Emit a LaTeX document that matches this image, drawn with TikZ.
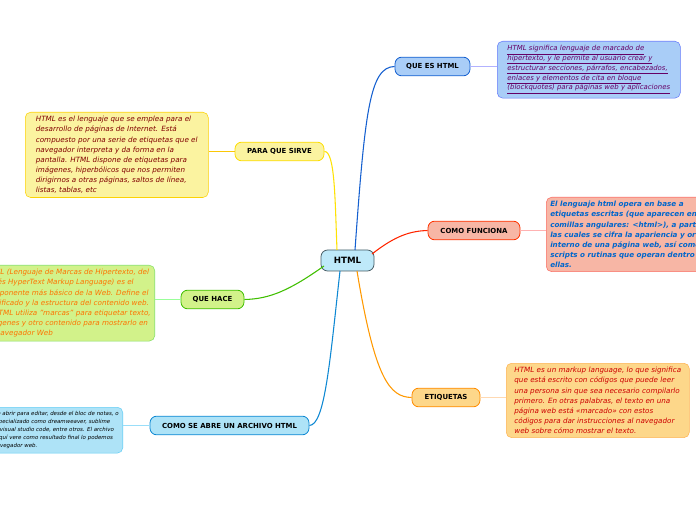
\documentclass[tikz,border=0pt]{standalone}
\usepackage{fontspec}
\setmainfont{DejaVu Sans}
\begin{document}
\begin{tikzpicture}[x=0.75pt,y=-0.75pt,
 topic/.style={draw,rounded corners=5pt,line width=0.6pt,minimum height=14pt,font=\fontsize{5.2}{6}\selectfont\bfseries,inner sep=1pt},
 note/.style={rounded corners=4pt,line width=0.4pt,anchor=north west,align=left,inner sep=3pt,font=\fontsize{5.4}{7.6}\selectfont\itshape},
 br/.style={line width=0.8pt},
 lk/.style={line width=0.5pt}]
\useasboundingbox[fill=white] (0,0) rectangle (696,520);
\definecolor{cb}{HTML}{A9CDF7}\definecolor{cr}{HTML}{F7B6A5}\definecolor{cy}{HTML}{FDD78A}
\definecolor{cc}{HTML}{AEE3F7}\definecolor{cg}{HTML}{D2F28A}\definecolor{cl}{HTML}{FBF3A0}
\definecolor{bl}{HTML}{1560D0}
\node[topic,fill=cc!80,draw=black!60!cc,minimum width=53*0.75pt,minimum height=21*0.75pt,font=\fontsize{6.5}{7}\selectfont\bfseries] (html) at (347.5,260.5) {HTML};
\node[topic,fill=cb,draw=bl,minimum width=75*0.75pt] (q) at (432.5,66.5) {QUE ES HTML};
\node[topic,fill=cr,draw=red!60!orange,minimum width=92*0.75pt] (cf) at (474,230.5) {COMO FUNCIONA};
\node[topic,fill=cy,draw=orange!90!yellow,minimum width=68*0.75pt] (et) at (446,397.5) {ETIQUETAS};
\node[topic,fill=cc,draw=cyan!70!blue,minimum width=159*0.75pt] (ab) at (229.5,425.5) {COMO SE ABRE UN ARCHIVO HTML};
\node[topic,fill=cg,draw=green!50!olive,minimum width=63*0.75pt] (qh) at (212.5,299.5) {QUE HACE};
\node[topic,fill=cl,draw=yellow!80!orange,minimum width=89*0.75pt] (ps) at (279.5,151.5) {PARA QUE SIRVE};

\draw[br,bl] (355,250) .. controls (365,110) and (370,67) .. (q.west);
\draw[br,red!70!orange] (372,254) .. controls (395,236) and (410,231) .. (cf.west);
\draw[br,orange!80!yellow] (357,271) .. controls (375,380) and (390,397) .. (et.west);
\draw[br,cyan!70!blue] (340,271) .. controls (330,360) and (325,425) .. (ab.east);
\draw[br,green!50!olive] (324,266) .. controls (290,290) and (270,299) .. (qh.east);
\draw[br,yellow!85!orange] (337,250) .. controls (335,200) and (335,151) .. (ps.east);

\node[note,fill=cb,draw=blue!40!cb,text=violet!80!black,minimum width=183*0.75pt,minimum height=51*0.75pt,font=\fontsize{5.2}{7.4}\selectfont\itshape] (t1) at (497,41) {\underline{HTML significa lenguaje de marcado de}\\\underline{hipertexto, y le permite al usuario crear y}\\\underline{estructurar secciones, párrafos, encabezados,}\\\underline{enlaces y elementos de cita en bloque}\\\underline{(blockquotes) para páginas web y aplicaciones}};
\node[note,fill=cr,draw=red!40!cr,text=blue!50!cyan!80!black,font=\fontsize{5.4}{7.6}\selectfont\bfseries\itshape,minimum height=67*0.75pt] (t2) at (546,197) {El lenguaje html opera en base a\\etiquetas escritas (que aparecen entre\\comillas angulares: <html>), a partir de\\las cuales se cifra la apariencia y orden\\interno de una página web, así como los\\scripts o rutinas que operan dentro de\\ellas.};
\node[note,fill=cy,draw=orange!40!cy,text=red!80!black,minimum width=183*0.75pt,minimum height=68*0.75pt] (t5) at (506,363) {HTML es un markup language, lo que significa\\que está escrito con códigos que puede leer\\una persona sin que sea necesario compilarlo\\primero. En otras palabras, el texto en una\\página web está «marcado» con estos\\códigos para dar instrucciones al navegador\\web sobre cómo mostrar el texto.};
\node[note,fill=cl,draw=yellow!70!orange,text=red!50!black,minimum width=183*0.75pt,minimum height=77*0.75pt] (t6) at (25,112) {HTML es el lenguaje que se emplea para el\\desarrollo de páginas de Internet. Está\\compuesto por una serie de etiquetas que el\\navegador interpreta y da forma en la\\pantalla. HTML dispone de etiquetas para\\imágenes, hiperbólicos que nos permiten\\dirigirnos a otras páginas, saltos de línea,\\listas, tablas, etc};
\node[note,fill=cg,draw=green!60!olive!60,text=orange!90!red,anchor=north east,minimum height=68*0.75pt] (t3) at (155,265) {HTML (Lenguaje de Marcas de Hipertexto, del\\inglés HyperText Markup Language) es el\\componente más básico de la Web. Define el\\significado y la estructura del contenido web.\\El HTML utiliza "marcas" para etiquetar texto,\\imágenes y otro contenido para mostrarlo en\\un navegador Web};
\node[note,fill=cc,draw=cyan!60,text=black,anchor=north east,font=\fontsize{4.1}{6.1}\selectfont\itshape,minimum height=37*0.75pt] (t4) at (123,407) {El archivo se puede abrir para editar, desde el bloc de notas, o\\algún programa especializado como dreamweaver, sublime\\text, notepad++ o visual studio code, entre otros. El archivo\\HTML que vemos aquí vere como resultado final lo podemos\\ver en cualquier navegador web.};

\draw[lk,blue!30] (q.east) -- (t1.west|-q.east);
\draw[lk,red!30] (cf.east) -- (t2.west|-cf.east);
\draw[lk,orange!30] (et.east) -- (t5.west|-et.east);
\draw[lk,yellow!60!orange] (ps.west) -- (t6.east|-ps.west);
\draw[lk,green!40] (qh.west) -- (t3.east|-qh.west);
\draw[lk,cyan!40] (ab.west) -- (t4.east|-ab.west);
\end{tikzpicture}
\end{document}
